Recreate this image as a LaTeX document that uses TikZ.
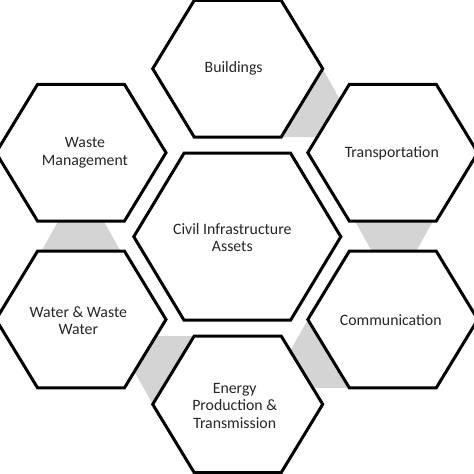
\documentclass[tikz,border=0pt]{standalone}
\usepackage{fontspec}
\setmainfont{Carlito}
\usetikzlibrary{calc}
\begin{document}
\begin{tikzpicture}[x=1pt,y=-1pt,
  hexa/.style={draw=black,fill=white,line width=3pt,line join=miter},
  link/.style={fill=black!17},
  lbl/.style={align=center,text=black!85,font=\fontsize{15.8}{17.5}\selectfont}]
\useasboundingbox (0,0) rectangle (474,474);
\clip (0,0) rectangle (474,474);
% centres of the cells
\coordinate (civ) at (237.3,236.7);
\coordinate (bld) at (237.7,68.7);
\coordinate (trn) at (392.8,152.7);
\coordinate (com) at (392.8,319.5);
\coordinate (eng) at (237.7,404.3);
\coordinate (wat) at (81,319.5);
\coordinate (wst) at (81,152.7);
% grey links, drawn first
\fill[link,shift={(bld)}] (85,0) -- (108.1,41.3) -- (87.3,68.3) -- (43.5,68.3) -- cycle;
\fill[link,shift={(trn)}] (-41.9,61) -- (44.3,61) -- (19.6,105.3) -- (-17.2,105.3) -- cycle;
\fill[link,shift={(com)}] (-85,0) -- (-108.1,41.3) -- (-87.3,68.3) -- (-43.5,68.3) -- cycle;
\fill[link,shift={(eng)}] (-85,0) -- (-108.1,-41.3) -- (-87.3,-68.3) -- (-43.5,-68.3) -- cycle;
\fill[link,shift={(wst)}] (-18.6,61) -- (18.6,61) -- (43.4,105.3) -- (-43.4,105.3) -- cycle;
% centre cell
\filldraw[hexa,shift={(civ)}] (-103.5,0) -- (-53.3,-83.5) -- (53.3,-83.5) -- (103.5,0)
  -- (53.3,83.5) -- (-53.3,83.5) -- cycle;
% outer cells
\filldraw[hexa,shift={(bld)}] (-85,0) -- (-43.5,-68.3) -- (43.5,-68.3) -- (85,0) -- (43.5,68.3) -- (-43.5,68.3) -- cycle;
\filldraw[hexa,shift={(trn)}] (-85,0) -- (-43.5,-68.3) -- (43.5,-68.3) -- (85,0) -- (43.5,68.3) -- (-43.5,68.3) -- cycle;
\filldraw[hexa,shift={(com)}] (-85,0) -- (-43.5,-68.3) -- (43.5,-68.3) -- (85,0) -- (43.5,68.3) -- (-43.5,68.3) -- cycle;
\filldraw[hexa,shift={(eng)}] (-85,0) -- (-43.5,-68.3) -- (43.5,-68.3) -- (85,0) -- (43.5,68.3) -- (-43.5,68.3) -- cycle;
\filldraw[hexa,shift={(wat)}] (-85,0) -- (-43.5,-68.3) -- (43.5,-68.3) -- (85,0) -- (43.5,68.3) -- (-43.5,68.3) -- cycle;
\filldraw[hexa,shift={(wst)}] (-85,0) -- (-43.5,-68.3) -- (43.5,-68.3) -- (85,0) -- (43.5,68.3) -- (-43.5,68.3) -- cycle;
% labels
\node[lbl] (civtxt) at ($(civ)+(-5,0.7)$) {Civil Infrastructure\\Assets};
\node[lbl] (bldtxt) at ($(bld)+(-4,0)$) {Buildings};
\node[lbl] (trntxt) at ($(trn)+(-1,1)$) {Transportation};
\node[lbl] (comtxt) at ($(com)+(-2,0.5)$) {Communication};
\node[lbl] (engtxt) at ($(eng)+(-3,1.5)$) {Energy\\Production \&\\Transmission};
\node[lbl] (wattxt) at ($(wat)+(-2.7,1)$) {Water \& Waste\\Water};
\node[lbl] (wsttxt) at ($(wst)+(4,0.3)$) {Waste\\Management};
\end{tikzpicture}
\end{document}
